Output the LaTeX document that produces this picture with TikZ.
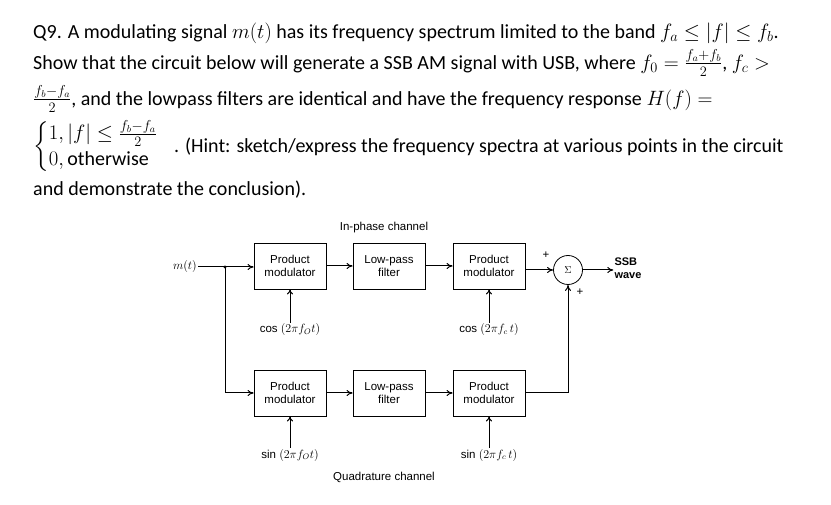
\documentclass[tikz,border=0pt]{standalone}
\usepackage{amsmath}
\usepackage{fontspec}
\setmainfont{Carlito}
\newfontfamily\dg{Liberation Sans}
\usetikzlibrary{arrows.meta}
\begin{document}
\begin{tikzpicture}[x=1pt,y=-1pt,
 txt/.style={anchor=west,inner sep=0,font=\fontsize{20}{22}\selectfont},
 blk/.style={draw,line width=0.8pt,minimum width=72pt,minimum height=46pt,align=center,font=\dg\fontsize{11.5}{13}\selectfont,inner sep=1pt},
 lab/.style={font=\dg\fontsize{11.5}{13}\selectfont,inner sep=1pt},
 ar/.style={-{To[length=6pt,width=6pt]},line width=1pt},
 ar2/.style={-{To[length=5pt,width=6pt]},line width=1pt}]
\useasboundingbox (0,0) rectangle (831,505);
\fill[white] (0,0) rectangle (831,505);
\node[txt] (l1) at (33,33) {Q9. A modulating signal $m(t)$ has its frequency spectrum limited to the band $f_a\le|f|\le f_b$.};
\node[txt] (l2) at (33,63) {Show that the circuit below will generate a SSB AM signal with USB, where $f_0=\frac{f_a+f_b}{2}$, $f_c>$};
\node[txt] (l3) at (33,99) {$\frac{f_b-f_a}{2}$, and the lowpass filters are identical and have the frequency response $H(f)=$};
\node[txt] (l4) at (33,147) {$\begin{cases}1,|f|\le\frac{f_b-f_a}{2}\\[0pt] 0,\text{otherwise}\end{cases}$\hspace{-4pt}. (Hint: sketch/express the frequency spectra at various points in the circuit};
\node[txt] (l5) at (33,190) {and demonstrate the conclusion).};

\node[blk] (p1) at (290,266) {Product\\modulator};
\node[blk] (f1) at (389,266) {Low-pass\\filter};
\node[blk] (p2) at (489,266) {Product\\modulator};
\node[blk] (p3) at (290,393) {Product\\modulator};
\node[blk] (f2) at (389,393) {Low-pass\\filter};
\node[blk] (p4) at (489,393) {Product\\modulator};
\node[draw,circle,line width=0.8pt,minimum size=29pt,inner sep=0] (s) at (568,270) {$\Sigma$};
\node[lab,anchor=east] (m) at (198,267) {$m(t)$};
\node[lab,align=left,font=\dg\bfseries\fontsize{11}{13}\selectfont] (o) at (628,268) {SSB\\wave};
\node[lab] (ip) at (384,228) {In-phase channel};
\node[lab] (qc) at (384,477) {Quadrature channel};
\node[lab] (c1) at (290,330) {cos $(2\pi f_O t)$};
\node[lab] (c2) at (489,330) {cos $(2\pi f_c\,t)$};
\node[lab] (s1) at (290,455) {sin $(2\pi f_O t)$};
\node[lab] (s2) at (489,455) {sin $(2\pi f_c\,t)$};
\coordinate (j) at (225,267);
\fill (j) circle (1.6pt);
\draw[line width=1pt] (m) -- (j);
\draw[ar] (j) -- (p1.west|-j);
\draw[ar] (j) |- (p3.west);
\draw[ar] (p1) -- (f1);
\draw[ar] (f1) -- (p2);
\draw[ar] (p3) -- (f2);
\draw[ar] (f2) -- (p4);
\draw[ar] (p2.east|-s) -- (s);
\draw[ar] (s) -- (o.west|-s);
\draw[ar] (p4.east) -| (s.south);
\draw[ar2] (c1) -- (p1);
\draw[ar2] (c2) -- (p2);
\draw[ar2] (s1) -- (p3);
\draw[ar2] (s2) -- (p4);
\node[lab] at (546,255) {+};
\node[lab] at (580,292) {+};
\end{tikzpicture}
\end{document}
